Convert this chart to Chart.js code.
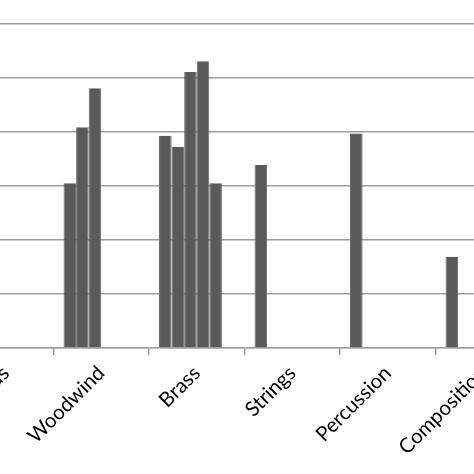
<!DOCTYPE html>
<html>
<head>
<meta charset="utf-8">
<script src="https://cdn.jsdelivr.net/npm/chart.js@4"></script>
<style>
    html, body { margin: 0; padding: 0; background: #fff; overflow: hidden; width: 474px; height: 474px; }
    #wrap { position: absolute; left: -42px; top: -30px; }
</style>
</head>
<body>
<div id="wrap"><canvas id="chart" width="573" height="508"></canvas></div>
<script>
// categories (the chart is cropped at both sides)
const categories = ['Keyboards', 'Woodwind', 'Brass', 'Strings', 'Percussion', 'Composition'];

// one array per bar slot inside a category
const slot1 = [null, 30.5, 39.3, 33.9, 39.7, 16.9];
const slot2 = [null, 40.9, 37.2, null, null, null];
const slot3 = [null, 48.1, 51.1, null, null, null];
const slot4 = [null, null, 53.1, null, null, null];
const slot5 = [null, null, 30.5, null, null, null];
const slot6 = [null, null, null, null, null, null];

const yMax = 70;
const yStep = 10;

const barColor = '#5a5a5a';
const gridColor = '#9f9f9f';

const slots = [slot1, slot2, slot3, slot4, slot5, slot6];

new Chart(document.getElementById('chart').getContext('2d'), {
    type: 'bar',
    data: {
        labels: categories,
        datasets: slots.map((vals, i) => ({
            label: 'Slot ' + (i + 1),
            data: vals,
            backgroundColor: barColor,
            borderColor: '#666666',
            borderWidth: { left: 1, right: 1, top: 0, bottom: 0 },
            categoryPercentage: 0.79,
            barPercentage: 1.0
        }))
    },
    options: {
        responsive: false,
        animation: false,
        layout: { padding: 0 },
        plugins: {
            legend: { display: false },
            tooltip: { enabled: false }
        },
        scales: {
            x: {
                grid: {
                    offset: true,
                    drawOnChartArea: false,
                    drawTicks: true,
                    tickLength: 7,
                    color: gridColor,
                    lineWidth: 1.5
                },
                border: { display: true, color: gridColor, width: 1.5 },
                ticks: {
                    color: '#000',
                    font: { family: 'Lato', size: 20.5 },
                    minRotation: 45,
                    maxRotation: 45,
                    autoSkip: false,
                    padding: 6
                },
                afterFit: (scale) => {
                    scale.height = 130;
                    scale.paddingLeft = 0;
                    scale.paddingRight = 0;
                }
            },
            y: {
                min: 0,
                max: yMax,
                ticks: { display: false, stepSize: yStep },
                border: { display: false },
                grid: {
                    drawTicks: false,
                    color: gridColor,
                    lineWidth: 1.5
                },
                afterFit: (scale) => {
                    scale.width = 0;
                }
            }
        }
    }
});
</script>
</body>
</html>
